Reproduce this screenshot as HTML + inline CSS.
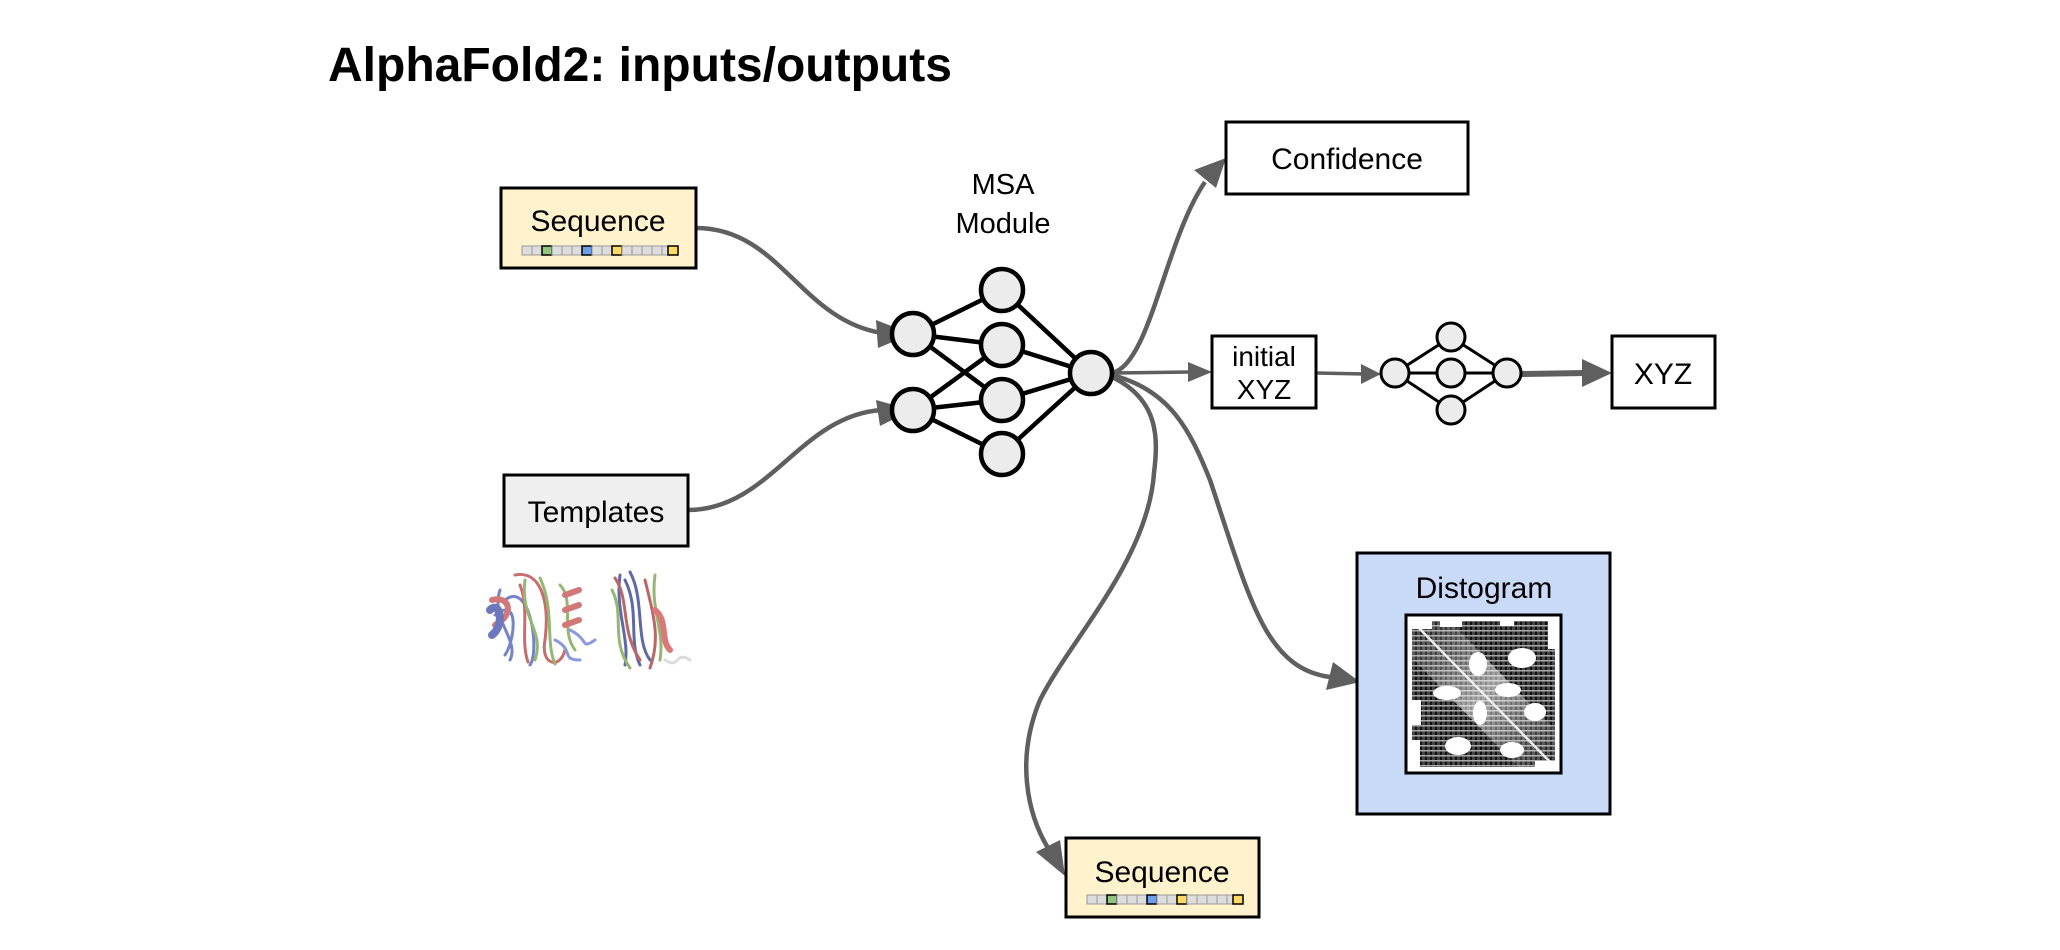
<!DOCTYPE html>
<html><head><meta charset="utf-8"><style>
html,body{margin:0;padding:0;background:#fff;}
svg{display:block;font-family:"Liberation Sans",Arial,sans-serif;}
</style></head><body>
<svg width="2060" height="950" viewBox="0 0 2060 950" xmlns="http://www.w3.org/2000/svg">
<defs>
<pattern id="hatch" width="5" height="5" patternUnits="userSpaceOnUse">
<rect width="5" height="5" fill="#444"/>
<rect width="2" height="5" fill="#111"/>
<rect width="5" height="1.5" fill="#aaa"/>
</pattern>
<linearGradient id="diag" x1="0" y1="0" x2="1" y2="1">
<stop offset="0" stop-color="#fff" stop-opacity="0"/>
<stop offset="0.5" stop-color="#fff" stop-opacity="0.9"/>
<stop offset="1" stop-color="#fff" stop-opacity="0"/>
</linearGradient>
</defs>

<text x="328" y="81" font-size="48" font-weight="bold" fill="#000">AlphaFold2: inputs/outputs</text>

<!-- connectors -->
<g fill="none" stroke="#5f5f5f" stroke-width="4.5">
<path d="M696 228 C780 228 800 320 882 333"/>
<path d="M688 510 C770 510 800 415 882 410"/>
<path d="M1112 373 C1150 365 1165 240 1205 182"/>
<path d="M1112 373 L1190 372" stroke-width="3.5"/>
<path d="M1316 373 L1365 374" stroke-width="3.5"/>
<path d="M1521 374 L1585 373" stroke-width="6"/>
<path d="M1112 375 C1170 390 1190 430 1210 480 C1250 600 1265 668 1330 677"/>
<path d="M1112 377 C1160 400 1158 440 1154 473 C1148 560 1070 640 1040 700 C1015 760 1028 815 1048 848"/>
</g>
<g fill="#5f5f5f">
<polygon points="912,334 876,320 878,348"/>
<polygon points="912,410 876,400 880,426"/>
<polygon points="1226,158 1194,170 1216,188"/>
<polygon points="1212,372 1188,362 1188,382"/>
<polygon points="1381,374 1361,364 1361,384"/>
<polygon points="1612,373 1582,359 1582,387"/>
<polygon points="1360,682 1333,662 1326,690"/>
<polygon points="1065,876 1036,852 1060,840"/>
</g>

<!-- input boxes -->
<rect x="501" y="188" width="195" height="80" fill="#fff2cc" stroke="#000" stroke-width="3"/>
<text x="598" y="231" font-size="30" text-anchor="middle">Sequence</text>
<g stroke="#999" stroke-width="1" fill="#ddd">
<rect x="522" y="246" width="10" height="9"/><rect x="532" y="246" width="10" height="9"/>
<rect x="542" y="246" width="10" height="9" fill="#93c47d" stroke="#000" stroke-width="1.5"/>
<rect x="552" y="246" width="10" height="9"/><rect x="562" y="246" width="10" height="9"/><rect x="572" y="246" width="10" height="9"/>
<rect x="582" y="246" width="10" height="9" fill="#6d9eeb" stroke="#000" stroke-width="1.5"/>
<rect x="592" y="246" width="10" height="9"/><rect x="602" y="246" width="10" height="9"/>
<rect x="612" y="246" width="10" height="9" fill="#ffd966" stroke="#000" stroke-width="1.5"/>
<rect x="622" y="246" width="10" height="9"/><rect x="632" y="246" width="10" height="9"/><rect x="642" y="246" width="10" height="9"/><rect x="652" y="246" width="10" height="9"/><rect x="662" y="246" width="6" height="9"/>
<rect x="668" y="246" width="10" height="9" fill="#ffd966" stroke="#000" stroke-width="1.5"/>
</g>

<rect x="504" y="475" width="184" height="71" fill="#efefef" stroke="#000" stroke-width="3"/>
<text x="596" y="522" font-size="30" text-anchor="middle">Templates</text>

<!-- protein cartoons -->
<g fill="none" stroke-width="3" opacity="0.7" stroke-linecap="round">
<path d="M500 590 C490 620 520 640 510 660 M505 600 C530 580 540 650 530 665 M495 615 C520 595 515 640 505 655" stroke="#3c4fb0"/>
<path d="M515 575 C540 570 550 600 545 640 C540 665 560 670 565 650 M520 585 C530 610 520 640 528 662" stroke="#b03030"/>
<path d="M525 580 C520 620 545 630 535 660 M560 585 C575 600 560 630 575 650 M540 578 C555 610 545 640 555 664" stroke="#6a9a3a"/>
<path d="M492 600 C510 595 515 615 495 625 M565 595 l14 -5 M565 610 l14 -5 M565 625 l14 -5" stroke="#c04040" stroke-width="6"/>
<path d="M490 610 C500 600 505 625 492 635" stroke="#3040a0" stroke-width="8"/>
<path d="M570 630 C590 640 580 650 595 640 M555 640 C575 650 560 660 580 660" stroke="#5a6fd0"/>
<path d="M620 575 C615 610 630 640 625 665 M630 572 C645 600 635 640 650 660 M625 580 C640 610 628 640 640 665" stroke="#1e2a80"/>
<path d="M615 578 C630 600 620 630 640 660 M645 580 C655 620 660 640 650 668" stroke="#a02828"/>
<path d="M612 590 C625 615 610 640 630 668 M655 575 C650 610 665 630 660 660" stroke="#6a9a3a"/>
<path d="M655 610 C668 620 660 640 670 650" stroke="#d04040" stroke-width="6"/>
<path d="M665 660 C680 670 675 650 690 660" stroke="#ccc"/>
</g>

<!-- MSA module -->
<text x="1003" y="194" font-size="29" text-anchor="middle">MSA</text>
<text x="1003" y="233" font-size="29" text-anchor="middle">Module</text>
<g stroke="#000" stroke-width="4.5">
<line x1="913" y1="334" x2="1002" y2="290"/><line x1="913" y1="334" x2="1002" y2="345"/><line x1="913" y1="334" x2="1002" y2="400"/>
<line x1="913" y1="410" x2="1002" y2="345"/><line x1="913" y1="410" x2="1002" y2="400"/><line x1="913" y1="410" x2="1002" y2="454"/>
<line x1="1002" y1="290" x2="1091" y2="373"/><line x1="1002" y1="345" x2="1091" y2="373"/><line x1="1002" y1="400" x2="1091" y2="373"/><line x1="1002" y1="454" x2="1091" y2="373"/>
</g>
<g fill="#ececec" stroke="#000" stroke-width="4.5">
<circle cx="913" cy="334" r="21"/><circle cx="913" cy="410" r="21"/>
<circle cx="1002" cy="290" r="21"/><circle cx="1002" cy="345" r="21"/><circle cx="1002" cy="400" r="21"/><circle cx="1002" cy="454" r="21"/>
<circle cx="1091" cy="373" r="21"/>
</g>

<!-- outputs -->
<rect x="1226" y="122" width="242" height="72" fill="#fff" stroke="#000" stroke-width="3"/>
<text x="1347" y="169" font-size="30" text-anchor="middle">Confidence</text>

<rect x="1212" y="336" width="104" height="72" fill="#fff" stroke="#000" stroke-width="3"/>
<text x="1264" y="366" font-size="28" text-anchor="middle">initial</text>
<text x="1264" y="399" font-size="28" text-anchor="middle">XYZ</text>

<g stroke="#000" stroke-width="3">
<line x1="1395" y1="373" x2="1507" y2="373"/>
<line x1="1395" y1="373" x2="1451" y2="337"/><line x1="1395" y1="373" x2="1451" y2="410"/>
<line x1="1507" y1="373" x2="1451" y2="337"/><line x1="1507" y1="373" x2="1451" y2="410"/>
</g>
<g fill="#ececec" stroke="#000" stroke-width="3">
<circle cx="1395" cy="373" r="14"/><circle cx="1451" cy="337" r="14"/><circle cx="1451" cy="373" r="14"/><circle cx="1451" cy="410" r="14"/><circle cx="1507" cy="373" r="14"/>
</g>

<rect x="1612" y="336" width="103" height="72" fill="#fff" stroke="#000" stroke-width="3"/>
<text x="1663" y="384" font-size="30" text-anchor="middle">XYZ</text>

<rect x="1357" y="553" width="253" height="261" fill="#c9daf8" stroke="#000" stroke-width="3"/>
<text x="1484" y="598" font-size="30" text-anchor="middle">Distogram</text>
<rect x="1406" y="615" width="155" height="158" fill="#fff" stroke="#000" stroke-width="3"/>
<g>
<rect x="1412" y="621" width="143" height="146" fill="url(#hatch)"/>
<polygon points="1412,621 1450,621 1555,730 1555,767 1518,767 1412,658" fill="url(#diag)" opacity="0.6"/>
<line x1="1414" y1="623" x2="1553" y2="765" stroke="#eee" stroke-width="2.5"/>
<g fill="#fff">
<ellipse cx="1478" cy="664" rx="9" ry="12"/><ellipse cx="1522" cy="658" rx="14" ry="10"/>
<ellipse cx="1447" cy="693" rx="14" ry="7"/><ellipse cx="1508" cy="690" rx="13" ry="7"/>
<ellipse cx="1480" cy="713" rx="7" ry="12"/><ellipse cx="1535" cy="712" rx="11" ry="9"/>
<ellipse cx="1458" cy="746" rx="13" ry="9"/><ellipse cx="1512" cy="750" rx="12" ry="8"/>
<path d="M1412 621 h20 v8 h-20z M1548 621 h7 v28 h-7z M1412 740 h8 v27 h-8z M1535 761 h20 v6 h-20z"/>
<path d="M1440 621 h22 v6 h-22z M1412 700 h9 v25 h-9z M1500 621 h14 v5 h-14z"/>
</g>
</g>

<rect x="1066" y="838" width="193" height="79" fill="#fff2cc" stroke="#000" stroke-width="3"/>
<text x="1162" y="882" font-size="30" text-anchor="middle">Sequence</text>
<g stroke="#999" stroke-width="1" fill="#ddd">
<rect x="1087" y="895" width="10" height="9"/><rect x="1097" y="895" width="10" height="9"/>
<rect x="1107" y="895" width="10" height="9" fill="#93c47d" stroke="#000" stroke-width="1.5"/>
<rect x="1117" y="895" width="10" height="9"/><rect x="1127" y="895" width="10" height="9"/><rect x="1137" y="895" width="10" height="9"/>
<rect x="1147" y="895" width="10" height="9" fill="#6d9eeb" stroke="#000" stroke-width="1.5"/>
<rect x="1157" y="895" width="10" height="9"/><rect x="1167" y="895" width="10" height="9"/>
<rect x="1177" y="895" width="10" height="9" fill="#ffd966" stroke="#000" stroke-width="1.5"/>
<rect x="1187" y="895" width="10" height="9"/><rect x="1197" y="895" width="10" height="9"/><rect x="1207" y="895" width="10" height="9"/><rect x="1217" y="895" width="10" height="9"/><rect x="1227" y="895" width="6" height="9"/>
<rect x="1233" y="895" width="10" height="9" fill="#ffd966" stroke="#000" stroke-width="1.5"/>
</g>
</svg>
</body></html>
